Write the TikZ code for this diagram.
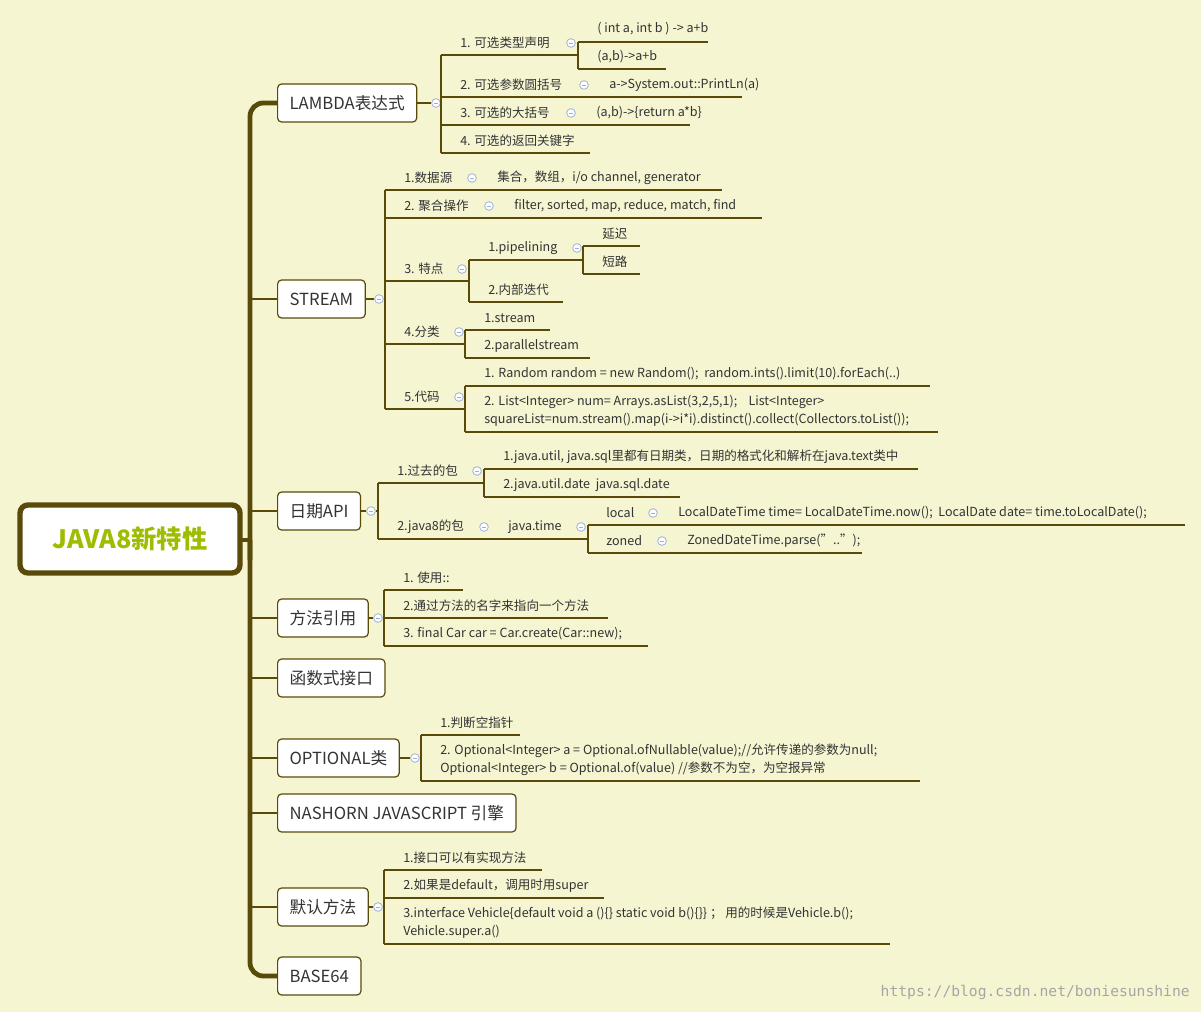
\documentclass[tikz,border=0pt]{standalone}
\usepackage{fontspec}
\setmainfont{Noto Sans CJK SC}
\newfontfamily\wmfont{DejaVu Sans Mono}
\definecolor{bg}{HTML}{F5F5D2}
\definecolor{ln}{HTML}{5A4A0A}
\definecolor{tx}{HTML}{333333}
\definecolor{rootc}{HTML}{9EBD00}
\definecolor{cb}{HTML}{9FB0D8}
\tikzset{
  lf/.style={anchor=west,inner sep=0pt,text=tx,font=\fontsize{9.4}{13.5}\selectfont,align=left},
  mainbox/.style={draw=ln,line width=0.9pt,fill=white,rounded corners=3pt,minimum height=28.5pt,inner xsep=9pt,text=tx,font=\fontsize{12.5}{15}\selectfont,anchor=west},
  uline/.style={draw=ln,line width=0.8pt},
  trunk/.style={draw=ln,line width=3.6pt},
  mk/.style={circle,draw=cb,fill=white,inner sep=0pt,minimum size=6.5pt,line width=0.6pt,
    path picture={\draw[cb,line width=0.6pt] ([xshift=-1.6pt]path picture bounding box.center) -- ([xshift=1.6pt]path picture bounding box.center);}}
}
\newcommand\lf[3]{\node[lf] (#1) at (#2) {#3};}
\newcommand\ul[3]{\draw[uline] (#1,#3) -- (#2,#3);}
\newcommand\vl[3]{\draw[uline] (#1,#2) -- (#1,#3);}
\newcommand\mk[2]{\node[mk] (#1) at (#2) {};}
\begin{document}
\begin{tikzpicture}[x=0.75pt,y=-0.75pt]
\fill[bg] (0,0) rectangle (1201,1012);
\useasboundingbox (0,0) rectangle (1201,1012);

% trunk
\draw[trunk,rounded corners=10pt] (250,560) -- (250,103) -- (277,103);
\draw[trunk,rounded corners=10pt] (250,540) -- (250,976) -- (277,976);
\draw[trunk] (242,540) -- (250,540);
% root
\node[draw=ln,line width=4pt,fill=white,rounded corners=6pt,minimum width=165pt,minimum height=51pt,text=rootc,font=\fontsize{19}{22}\bfseries\selectfont] (root) at (130,539) {JAVA8新特性};

% main nodes
\node[mainbox] (lam) at (277,103) {LAMBDA表达式};
\node[mainbox] (str) at (277,299) {STREAM};
\node[mainbox] (date) at (277,511) {日期API};
\node[mainbox] (mref) at (277,618) {方法引用};
\node[mainbox] (fi) at (277,678) {函数式接口};
\node[mainbox] (opt) at (277,758) {OPTIONAL类};
\node[mainbox] (nas) at (277,813) {NASHORN JAVASCRIPT 引擎};
\node[mainbox] (dm) at (277,907) {默认方法};
\node[mainbox] (b64) at (277,976) {BASE64};
\foreach \n/\y in {str/299,date/511,mref/618,fi/678,opt/758,nas/813,dm/907}{\draw[draw=ln,line width=1.5pt] (250,\y) -- (\n.west);}

% LAMBDA
\mk{m1}{436,103}
\draw[uline] (lam.east) -- (m1);
\draw[uline] (m1) -- (441,103);
\vl{441}{55}{153}
\lf{l1}{460,43}{1. 可选类型声明}\ul{441}{578}{55}
\mk{m11}{571,43}
\vl{578}{42}{69}
\lf{l11}{597,29}{( int a, int b ) -{}> a+b}\ul{578}{708}{42}
\lf{l12}{597,57}{(a,b)-{}>a+b}\ul{578}{666}{69}
\lf{l2}{460,85}{2. 可选参数圆括号}\mk{m12}{584,85}
\lf{l21}{609,85}{a-{}>System.out::PrintLn(a)}\ul{441}{742}{97}
\lf{l3}{460,113}{3. 可选的大括号}\mk{m13}{571,113}
\lf{l31}{596,113}{(a,b)-{}>\{return a*b\}}\ul{441}{690}{125}
\lf{l4}{460,141}{4. 可选的返回关键字}\ul{441}{590}{153}

% STREAM
\mk{m2}{379,299}
\draw[uline] (str.east) -- (m2);
\draw[uline] (m2) -- (385,299);
\vl{385}{190}{409}
\lf{s1}{404,178}{1.数据源}\mk{ms1}{472,178}
\lf{s11}{497,178}{集合，数组，i/o channel, generator}\ul{385}{722}{190}
\lf{s2}{404,206}{2. 聚合操作}\mk{ms2}{489,206}
\lf{s21}{514,206}{filter, sorted, map, reduce, match, find}\ul{385}{762}{218}
\lf{s3}{404,269}{3. 特点}\mk{ms3}{462,269}\ul{385}{469}{281}
\vl{469}{260}{302}
\lf{s31}{488,248}{1.pipelining}\ul{469}{583}{260}\mk{ms31}{577,248}
\vl{583}{246}{274}
\lf{s311}{602,234}{延迟}\ul{583}{640}{246}
\lf{s312}{602,262}{短路}\ul{583}{640}{274}
\lf{s32}{488,290}{2.内部迭代}\ul{469}{563}{302}
\lf{s4}{404,332}{4.分类}\mk{ms4}{459,332}\ul{385}{465}{344}
\vl{465}{330}{358}
\lf{s41}{484,318}{1.stream}\ul{465}{550}{330}
\lf{s42}{484,346}{2.parallelstream}\ul{465}{590}{358}
\lf{s5}{404,397}{5.代码}\mk{ms5}{459,397}\ul{385}{465}{409}
\vl{465}{386}{432}
\lf{s51}{484,374}{1. Random random = new Random();\ \ random.ints().limit(10).forEach(..)}\ul{465}{930}{386}
\lf{s52}{484,411}{2. List<Integer> num= Arrays.asList(3,2,5,1);\ \ \ \ List<Integer>\\squareList=num.stream().map(i-{}>i*i).distinct().collect(Collectors.toList());}\ul{465}{938}{432}

% DATE
\mk{m3}{371,511}
\draw[uline] (date.east) -- (m3);
\draw[uline] (m3) -- (378,511);
\vl{378}{483}{539}
\lf{d1}{397,471}{1.过去的包}\mk{md1}{477,471}\ul{378}{484}{483}
\vl{484}{469}{497}
\lf{d11}{503,457}{1.java.util, java.sql里都有日期类，日期的格式化和解析在java.text类中}\ul{484}{918}{469}
\lf{d12}{503,485}{2.java.util.date\ \ java.sql.date}\ul{484}{680}{497}
\lf{d2}{397,527}{2.java8的包}\mk{md2}{484,527}
\lf{d21}{508,527}{java.time}\mk{md21}{581,527}\ul{378}{588}{539}
\vl{588}{525}{553}
\lf{d211}{606,513}{local}\mk{md211}{653,513}
\lf{d2111}{678,513}{LocalDateTime time= LocalDateTime.now();\ \ LocalDate date= time.toLocalDate();}\ul{588}{1185}{525}
\lf{d212}{606,541}{zoned}\mk{md212}{662,541}
\lf{d2121}{687,541}{ZonedDateTime.parse("..");}\ul{588}{862}{553}

% method ref
\mk{m4}{378,618}
\draw[uline] (mref.east) -- (m4);
\draw[uline] (m4) -- (384,618);
\vl{384}{590}{646}
\lf{r1}{403,578}{1. 使用::}\ul{384}{463}{590}
\lf{r2}{403,606}{2.通过方法的名字来指向一个方法}\ul{384}{608}{618}
\lf{r3}{403,634}{3. final Car car = Car.create(Car::new);}\ul{384}{648}{646}

% optional
\mk{m5}{415,758}
\draw[uline] (opt.east) -- (m5);
\draw[uline] (m5) -- (421,758);
\vl{421}{735}{781}
\lf{o1}{440,723}{1.判断空指针}\ul{421}{520}{735}
\lf{o2}{440,760}{2. Optional<Integer> a = Optional.ofNullable(value);//允许传递的参数为null;\\Optional<Integer> b = Optional.of(value) //参数不为空，为空报异常}\ul{421}{920}{781}

% default methods
\mk{m6}{378,907}
\draw[uline] (dm.east) -- (m6);
\draw[uline] (m6) -- (384,907);
\vl{384}{870}{944}
\lf{f1}{403,858}{1.接口可以有实现方法}\ul{384}{542}{870}
\lf{f2}{403,886}{2.如果是default，调用时用super}\ul{384}{604}{898}
\lf{f3}{403,923}{3.interface Vehicle\{default void a ()\{\} static void b()\{\}\}\ ；\ 用的时候是Vehicle.b();\\Vehicle.super.a()}\ul{384}{890}{944}

% watermark
\node[anchor=east,inner sep=0pt,text=black!35,font=\wmfont\fontsize{11}{13}\selectfont] (wm) at (1190,992) {https://blog.csdn.net/boniesunshine};
\end{tikzpicture}
\end{document}
